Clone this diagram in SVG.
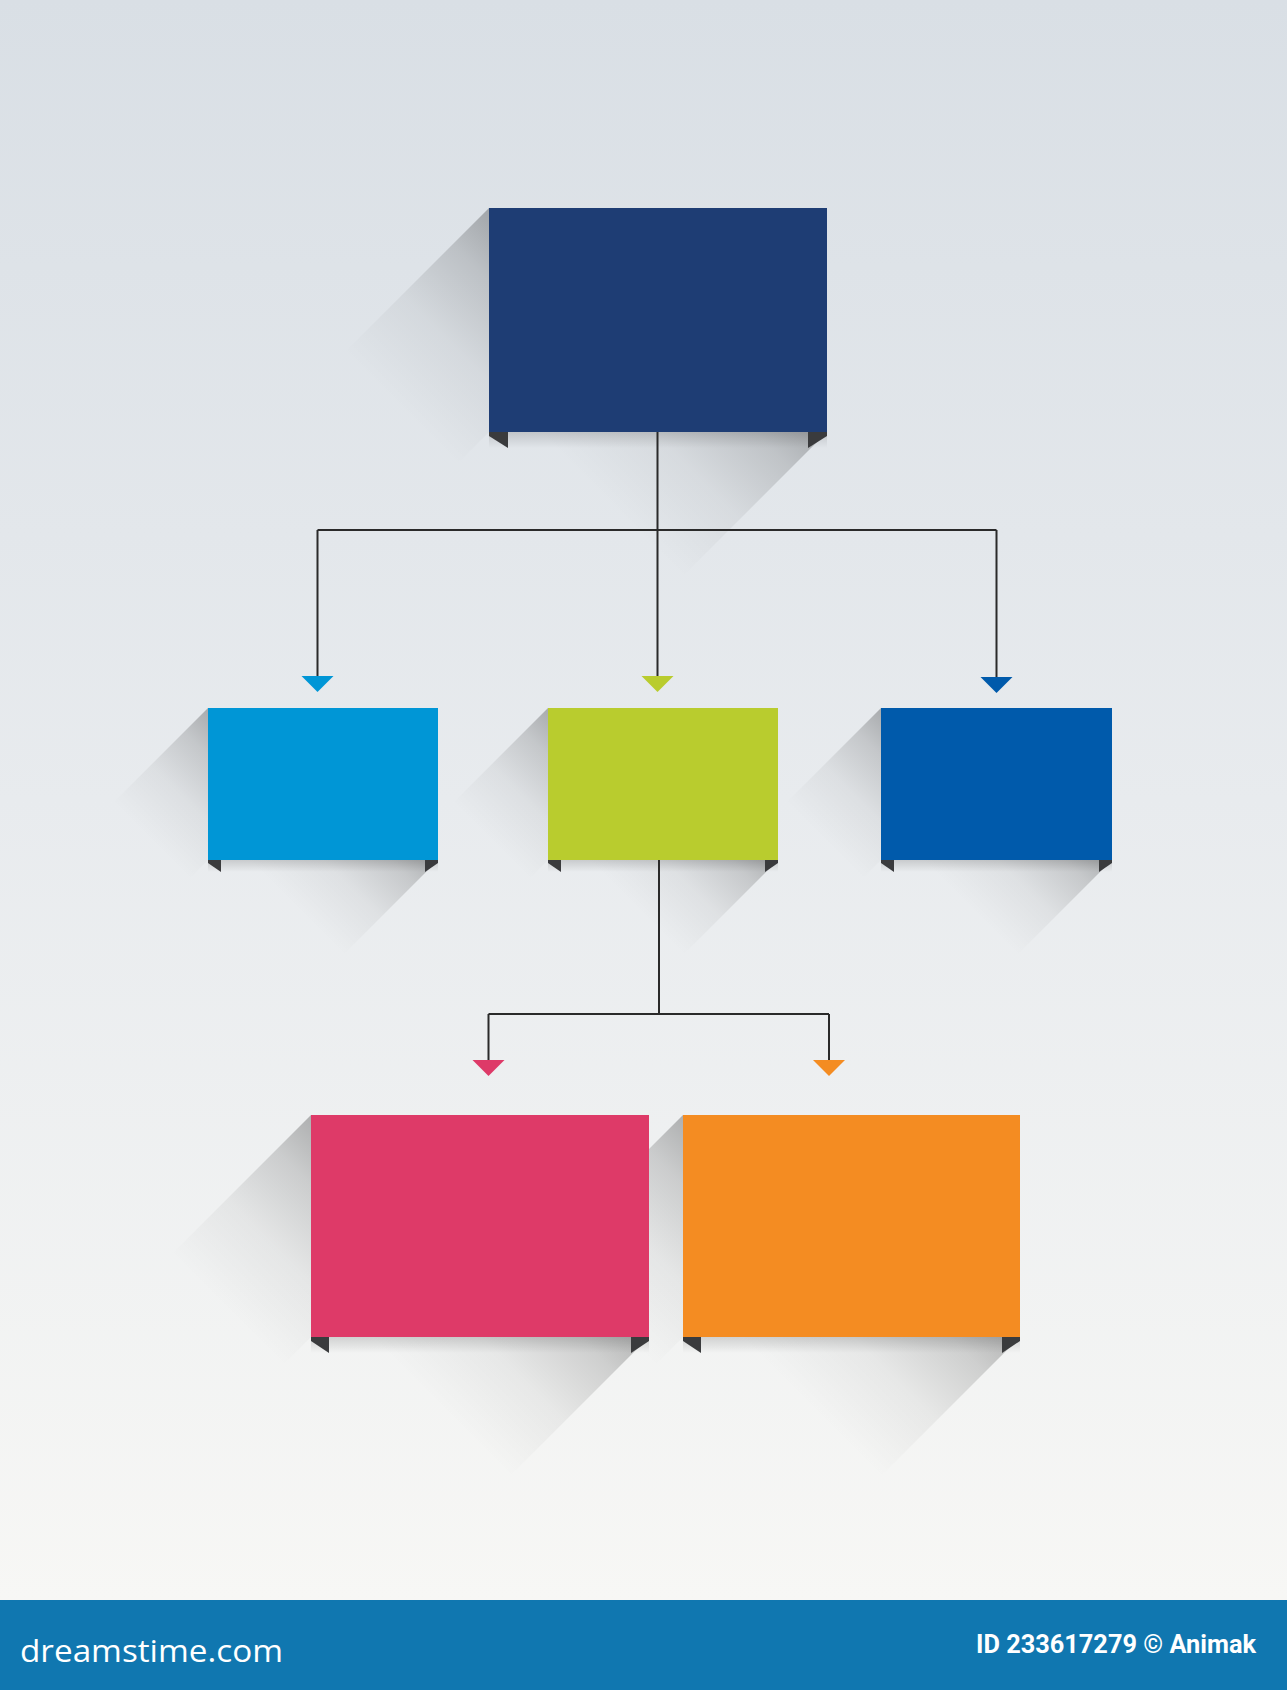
<svg xmlns="http://www.w3.org/2000/svg" xmlns:xlink="http://www.w3.org/1999/xlink" width="1287" height="1690" viewBox="0 0 1287 1690">
  <defs>
    <linearGradient id="bg" x1="0" y1="0" x2="0" y2="1">
      <stop offset="0" stop-color="#d9dfe5"/>
      <stop offset="0.5" stop-color="#e8ebee"/>
      <stop offset="1" stop-color="#f7f7f5"/>
    </linearGradient>
    <linearGradient id="shade">
      <stop offset="0" stop-color="#000" stop-opacity="0.27"/>
      <stop offset="0.25" stop-color="#000" stop-opacity="0.15"/>
      <stop offset="0.6" stop-color="#000" stop-opacity="0.05"/>
      <stop offset="1" stop-color="#000" stop-opacity="0"/>
    </linearGradient>
    <linearGradient id="under" x1="0" y1="0" x2="0" y2="1">
      <stop offset="0" stop-color="#000" stop-opacity="0.14"/>
      <stop offset="1" stop-color="#000" stop-opacity="0"/>
    </linearGradient>
    <!-- per-node shadow directions (down-left long shadow) -->
    <linearGradient id="sTopL" xlink:href="#shade" gradientUnits="userSpaceOnUse" x1="489" y1="208" x2="344" y2="353"/>
    <linearGradient id="sTopB" xlink:href="#shade" gradientUnits="userSpaceOnUse" x1="827" y1="432" x2="682" y2="577"/>
    <linearGradient id="sMLL" xlink:href="#shade" gradientUnits="userSpaceOnUse" x1="208" y1="708" x2="113" y2="803"/>
    <linearGradient id="sMLB" xlink:href="#shade" gradientUnits="userSpaceOnUse" x1="438" y1="860" x2="343" y2="955"/>
    <linearGradient id="sMCL" xlink:href="#shade" gradientUnits="userSpaceOnUse" x1="548" y1="708" x2="453" y2="803"/>
    <linearGradient id="sMCB" xlink:href="#shade" gradientUnits="userSpaceOnUse" x1="778" y1="860" x2="683" y2="955"/>
    <linearGradient id="sMRL" xlink:href="#shade" gradientUnits="userSpaceOnUse" x1="881" y1="708" x2="786" y2="803"/>
    <linearGradient id="sMRB" xlink:href="#shade" gradientUnits="userSpaceOnUse" x1="1112" y1="860" x2="1017" y2="955"/>
    <linearGradient id="sBLL" xlink:href="#shade" gradientUnits="userSpaceOnUse" x1="311" y1="1115" x2="171" y2="1255"/>
    <linearGradient id="sBLB" xlink:href="#shade" gradientUnits="userSpaceOnUse" x1="649" y1="1337" x2="509" y2="1477"/>
    <linearGradient id="sBRL" xlink:href="#shade" gradientUnits="userSpaceOnUse" x1="683" y1="1115" x2="543" y2="1255"/>
    <linearGradient id="sBRB" xlink:href="#shade" gradientUnits="userSpaceOnUse" x1="1020" y1="1337" x2="880" y2="1477"/>
  </defs>
  <style>
    .under { fill: url(#under); }
    .tab { fill: #3a3b3d; }
    .conn { stroke: #2a2a2a; stroke-width: 2; fill: none; }
    .foot { fill: #ffffff; }
  </style>

  <rect x="0" y="0" width="1287" height="1600" fill="url(#bg)"/>

  <!-- Top node -->
  <g id="node-top">
    <polygon fill="url(#sTopL)" points="489,208 489,432 289,632 289,408"/>
    <polygon fill="url(#sTopB)" points="489,432 827,432 627,632 289,632"/>
    <rect class="under" x="489" y="432" width="338" height="16"/>
    <polygon class="tab" points="489,432 508,432 508,448 489,436"/>
    <polygon class="tab" points="827,432 808,432 808,448 827,436"/>
    <rect x="489" y="208" width="338" height="224" fill="#1e3d74"/>
  </g>

  <!-- Middle row (drawn right to left so shadows fall behind neighbours) -->
  <g id="node-mid-right">
    <polygon fill="url(#sMRL)" points="881,708 881,860 751,990 751,838"/>
    <polygon fill="url(#sMRB)" points="881,860 1112,860 982,990 751,990"/>
    <rect class="under" x="881" y="860" width="231" height="12"/>
    <polygon class="tab" points="881,860 894,860 894,872 881,863"/>
    <polygon class="tab" points="1112,860 1099,860 1099,872 1112,863"/>
    <rect x="881" y="708" width="231" height="152" fill="#005aab"/>
  </g>

  <g id="node-mid-center">
    <polygon fill="url(#sMCL)" points="548,708 548,860 418,990 418,838"/>
    <polygon fill="url(#sMCB)" points="548,860 778,860 648,990 418,990"/>
    <rect class="under" x="548" y="860" width="230" height="12"/>
    <polygon class="tab" points="548,860 561,860 561,872 548,863"/>
    <polygon class="tab" points="778,860 765,860 765,872 778,863"/>
    <rect x="548" y="708" width="230" height="152" fill="#b9cc2e"/>
  </g>

  <g id="node-mid-left">
    <polygon fill="url(#sMLL)" points="208,708 208,860 78,990 78,838"/>
    <polygon fill="url(#sMLB)" points="208,860 438,860 308,990 78,990"/>
    <rect class="under" x="208" y="860" width="230" height="12"/>
    <polygon class="tab" points="208,860 221,860 221,872 208,863"/>
    <polygon class="tab" points="438,860 425,860 425,872 438,863"/>
    <rect x="208" y="708" width="230" height="152" fill="#0096d6"/>
  </g>

  <!-- Bottom row -->
  <g id="node-bottom-right">
    <polygon fill="url(#sBRL)" points="683,1115 683,1337 483,1537 483,1315"/>
    <polygon fill="url(#sBRB)" points="683,1337 1020,1337 820,1537 483,1537"/>
    <rect class="under" x="683" y="1337" width="337" height="16"/>
    <polygon class="tab" points="683,1337 701,1337 701,1353 683,1341"/>
    <polygon class="tab" points="1020,1337 1002,1337 1002,1353 1020,1341"/>
    <rect x="683" y="1115" width="337" height="222" fill="#f48c22"/>
  </g>

  <g id="node-bottom-left">
    <polygon fill="url(#sBLL)" points="311,1115 311,1337 111,1537 111,1315"/>
    <polygon fill="url(#sBLB)" points="311,1337 649,1337 449,1537 111,1537"/>
    <rect class="under" x="311" y="1337" width="338" height="16"/>
    <polygon class="tab" points="311,1337 329,1337 329,1353 311,1341"/>
    <polygon class="tab" points="649,1337 631,1337 631,1353 649,1341"/>
    <rect x="311" y="1115" width="338" height="222" fill="#de3a68"/>
  </g>

  <!-- Connectors -->
  <g id="connectors">
    <path class="conn" d="M657.5,432 V530 M317.5,530 H996.5 M317.5,530 V677 M657.5,530 V677 M996.5,530 V677"/>
    <path class="conn" d="M659,860 V1014 M488.5,1014 H829 M488.5,1014 V1061 M829,1014 V1061"/>
    <polygon points="301.5,676 333.5,676 317.5,692" fill="#0096d6"/>
    <polygon points="641.5,676 673.5,676 657.5,692" fill="#b9cc2e"/>
    <polygon points="980.5,677 1012.5,677 996.5,693" fill="#005aab"/>
    <polygon points="472.5,1060 504.5,1060 488.5,1076" fill="#de3a68"/>
    <polygon points="813,1060 845,1060 829,1076" fill="#f48c22"/>
  </g>

  <!-- Footer -->
  <rect x="0" y="1600" width="1287" height="90" fill="#1077b0"/>
  <text class="foot" x="20" y="1662" font-family="'Open Sans', 'Liberation Sans', sans-serif" font-size="31" textLength="263" lengthAdjust="spacingAndGlyphs">dreamstime.com</text>
  <text class="foot" x="976" y="1653" font-family="Roboto, 'Liberation Sans', sans-serif" font-size="25" font-weight="bold" textLength="280" lengthAdjust="spacingAndGlyphs">ID 233617279 © Animak</text>
</svg>
